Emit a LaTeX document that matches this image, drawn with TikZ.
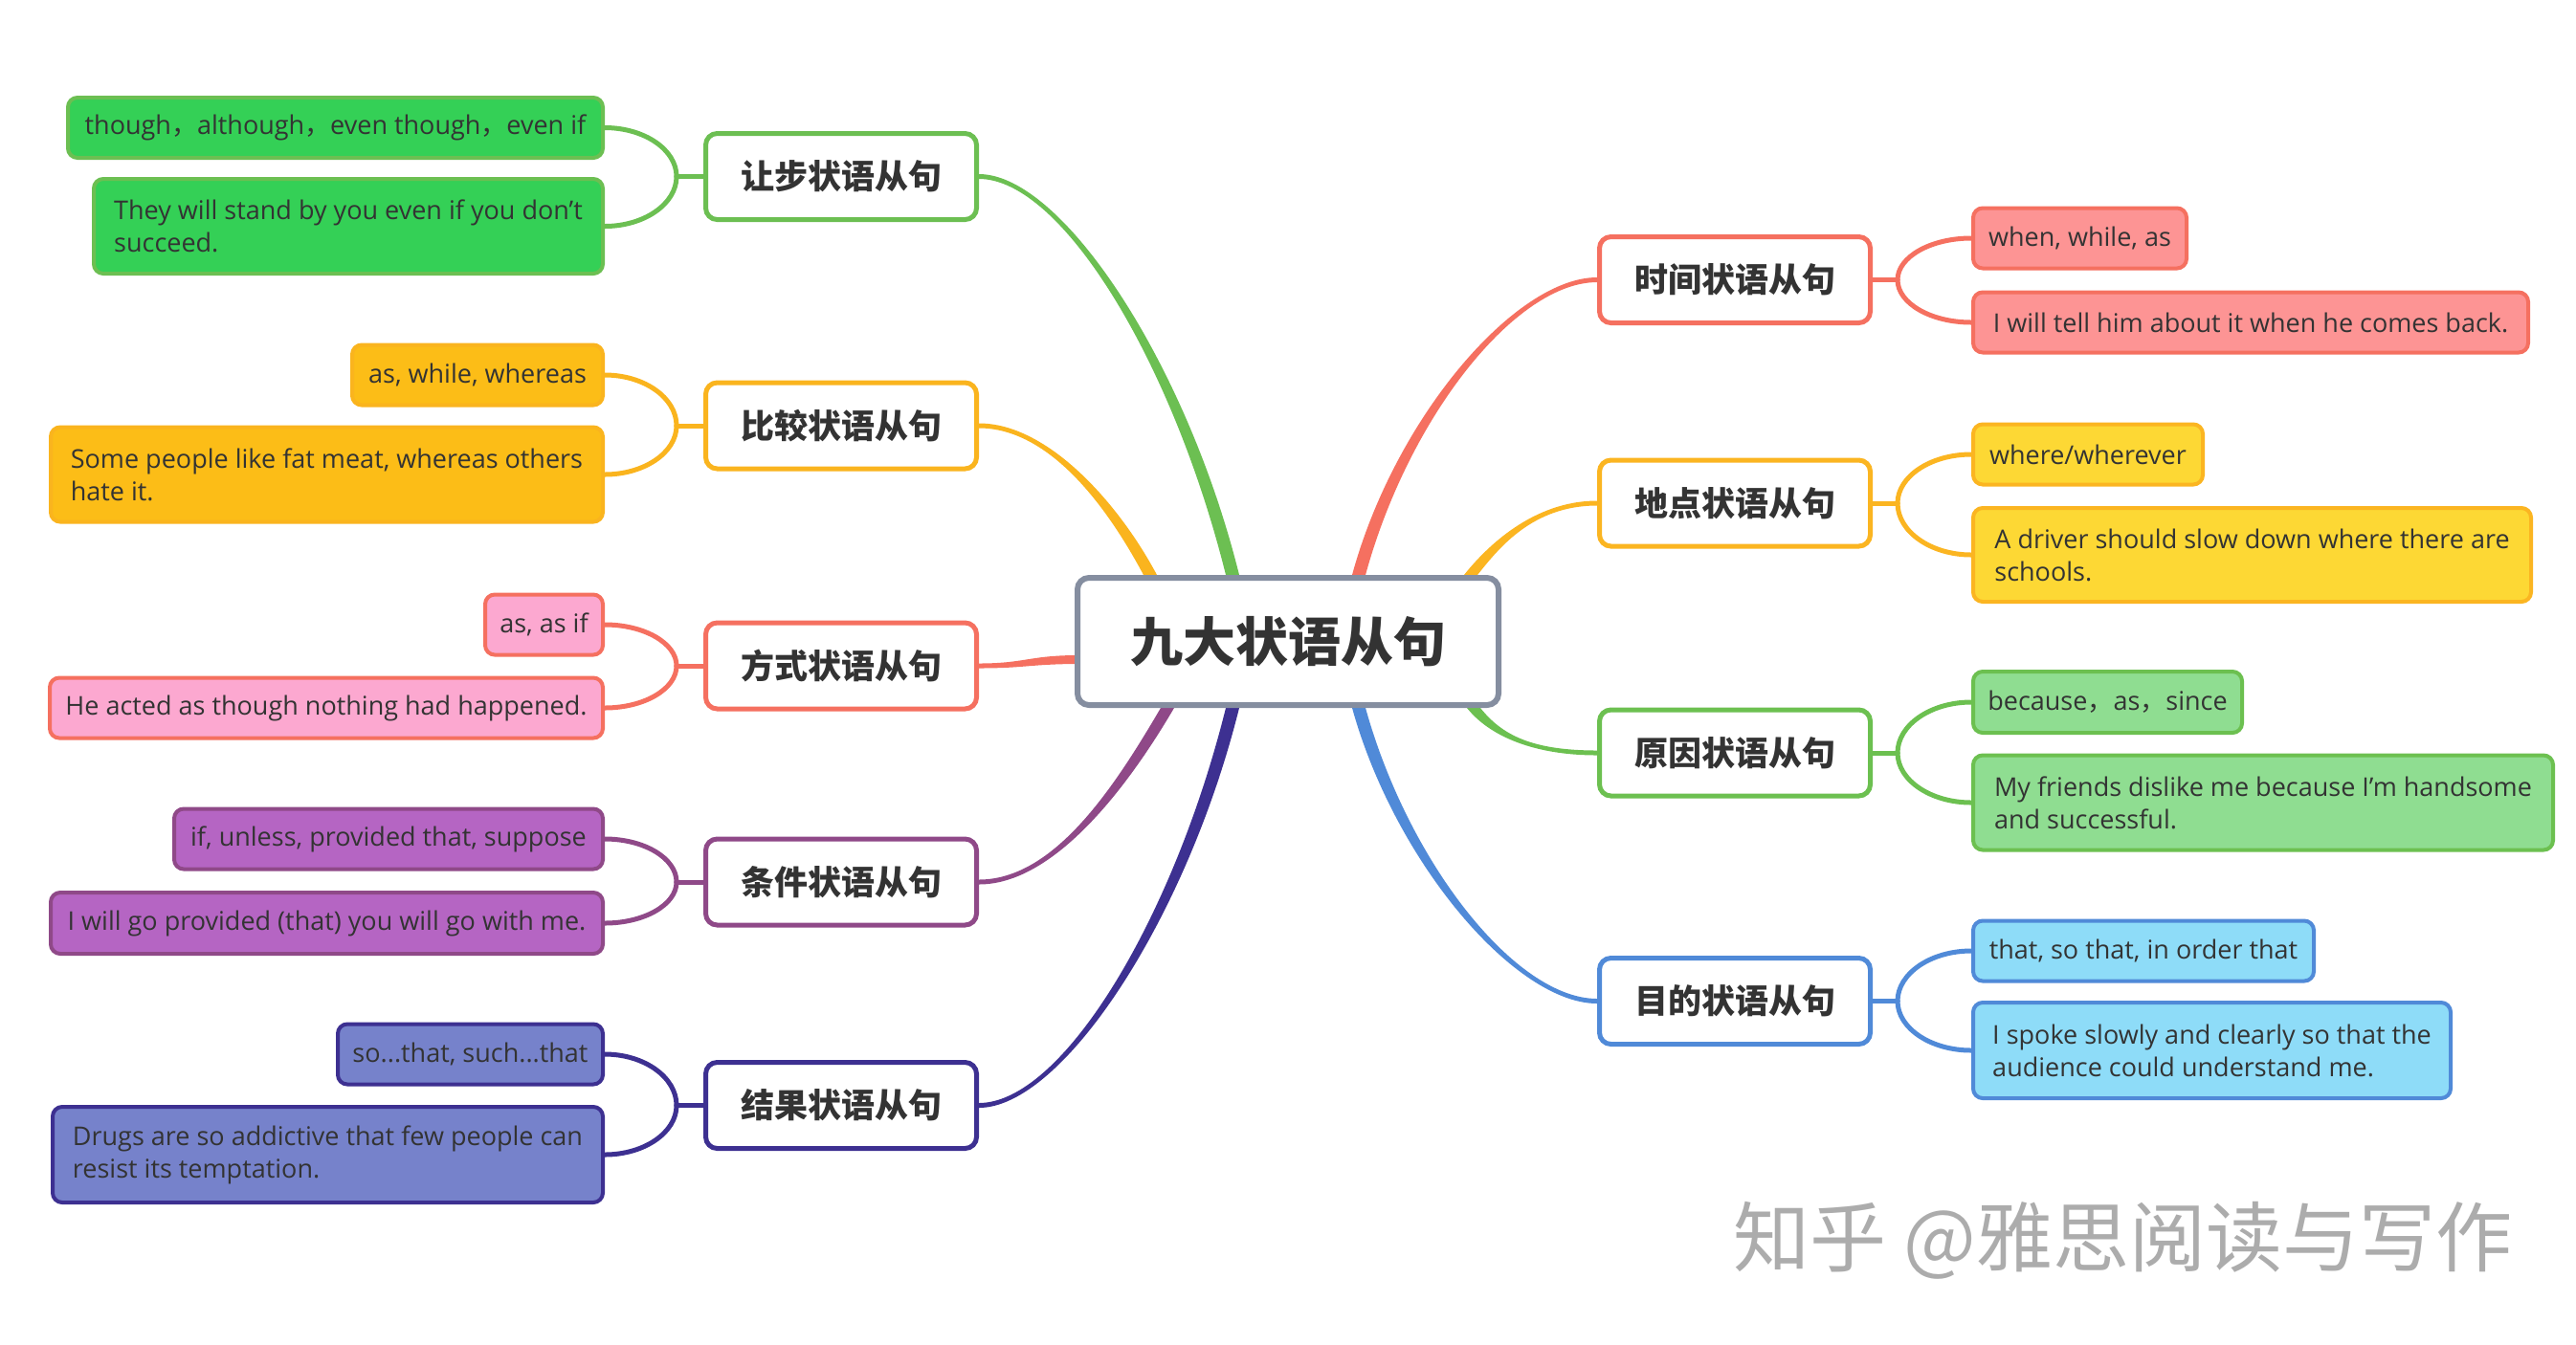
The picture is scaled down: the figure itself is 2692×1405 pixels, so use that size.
\documentclass[tikz,border=0pt]{standalone}
\usepackage{fontspec}
\setmainfont{Open Sans}
\newfontfamily\cjk{Noto Sans CJK SC}
\usetikzlibrary{calc,backgrounds}
\definecolor{gA}{RGB}{108,191,82}
\definecolor{gAf}{RGB}{52,208,86}
\definecolor{oB}{RGB}{250,180,30}
\definecolor{oBf}{RGB}{252,189,23}
\definecolor{rC}{RGB}{245,112,96}
\definecolor{pCf}{RGB}{252,168,208}
\definecolor{vD}{RGB}{143,73,136}
\definecolor{vDf}{RGB}{181,101,195}
\definecolor{iE}{RGB}{61,48,145}
\definecolor{iEf}{RGB}{118,130,203}
\definecolor{rFf}{RGB}{253,148,148}
\definecolor{yG}{RGB}{251,181,33}
\definecolor{yGf}{RGB}{253,216,52}
\definecolor{gH}{RGB}{108,192,80}
\definecolor{gHf}{RGB}{143,221,145}
\definecolor{bI}{RGB}{80,138,216}
\definecolor{bIf}{RGB}{142,220,248}
\definecolor{cenc}{RGB}{133,142,160}
\definecolor{txt}{RGB}{51,51,51}
\definecolor{wmc}{RGB}{172,172,172}
\newcommand\mmleaf{\fontsize{13.5}{17}\selectfont}
\newcommand\mmbranch{\cjk\bfseries\fontsize{17.5}{20}\selectfont}
\newcommand\mmcenter{\cjk\bfseries\fontsize{27.5}{30}\selectfont}
\newcommand\cc{{\cjk ，}}
% tapered main link: color, start, start offset, ctrl1, ctrl2, end, end offset
\newcommand\mmlink[7]{\fill[#1] ($(#2)+#3$) .. controls ($#4+#3$) and ($#5+#7$) .. ($(#6)+#7$) -- ($(#6)-#7$) .. controls ($#5-#7$) and ($#4-#3$) .. ($(#2)-#3$) -- cycle;}
% sub link: color, junction, leaf anchor
\newcommand\mmsub[3]{\draw[sublink=#1] (#2) .. controls ($(#2)!0.55!(#2|-#3)$) and ($(#3)!0.55!(#2|-#3)$) .. (#3);}
\tikzset{
  leaf/.style 2 args={draw=#1, fill=#2, rounded corners=5pt, line width=2pt, inner sep=0pt, align=left, font=\mmleaf, text=txt},
  branchbox/.style={draw=#1, fill=white, rounded corners=6pt, line width=2.5pt, minimum width=141.5pt, minimum height=45pt, inner sep=0pt, font=\mmbranch, text=txt},
  centerbox/.style={draw=cenc, fill=white, rounded corners=6pt, line width=3pt, minimum width=220pt, minimum height=66.5pt, inner sep=0pt, font=\mmcenter, text=txt},
  sublink/.style={draw=#1, line width=2.5pt, line cap=round},
}
\begin{document}
\begin{tikzpicture}[x=0.5pt, y=-0.5pt]
\useasboundingbox (0,0) rectangle (2692,1405);
% central
\node[centerbox] (c) at (1346,670.5) {九大状语从句};
% left branches
\node[branchbox=gA] (b1) at (879,184.5) {让步状语从句};
\node[branchbox=oB] (b2) at (879,445) {比较状语从句};
\node[branchbox=rC] (b3) at (879,696) {方式状语从句};
\node[branchbox=vD] (b4) at (879,922) {条件状语从句};
\node[branchbox=iE] (b5) at (879,1155.5) {结果状语从句};
% right branches
\node[branchbox=rC] (b6) at (1813,292.5) {时间状语从句};
\node[branchbox=yG] (b7) at (1813,526) {地点状语从句};
\node[branchbox=gH] (b8) at (1813,787) {原因状语从句};
\node[branchbox=bI] (b9) at (1813,1046.5) {目的状语从句};
% left leaves
\node[leaf={gA}{gAf}, minimum width=279.5pt, minimum height=31.5pt, anchor=east] (l1a) at (632,133.5) {though\cc although\cc even though\cc even if};
\node[leaf={gA}{gAf}, minimum width=266pt, minimum height=49.5pt, anchor=east] (l1b) at (632,236.5) {They will stand by you even if you don’t\\succeed.};
\node[leaf={oB}{oBf}, minimum width=131pt, minimum height=31.5pt, anchor=east] (l2a) at (632,392) {as, while, whereas};
\node[leaf={oB}{oBf}, minimum width=288.5pt, minimum height=49.5pt, anchor=east] (l2b) at (632,496) {Some people like fat meat, whereas others\\hate it.};
\node[leaf={rC}{pCf}, minimum width=61.5pt, minimum height=31.5pt, anchor=east] (l3a) at (632,653) {as, as if};
\node[leaf={rC}{pCf}, minimum width=289pt, minimum height=31.5pt, anchor=east] (l3b) at (632,740) {He acted as though nothing had happened.};
\node[leaf={vD}{vDf}, minimum width=224pt, minimum height=31.5pt, anchor=east] (l4a) at (632,877) {if, unless, provided that, suppose};
\node[leaf={vD}{vDf}, minimum width=288.5pt, minimum height=32pt, anchor=east] (l4b) at (632,965) {I will go provided (that) you will go with me.};
\node[leaf={iE}{iEf}, minimum width=138.5pt, minimum height=31.5pt, anchor=east] (l5a) at (632,1102) {so...that, such...that};
\node[leaf={iE}{iEf}, minimum width=287.5pt, minimum height=50pt, anchor=east] (l5b) at (632,1207) {Drugs are so addictive that few people can\\resist its temptation.};
% right leaves
\node[leaf={rC}{rFf}, minimum width=111.5pt, minimum height=31.5pt, anchor=west] (r1a) at (2060,249) {when, while, as};
\node[leaf={rC}{rFf}, minimum width=290pt, minimum height=31.5pt, anchor=west] (r1b) at (2060,337) {I will tell him about it when he comes back.};
\node[leaf={yG}{yGf}, minimum width=120pt, minimum height=31.5pt, anchor=west] (r2a) at (2060,475) {where/wherever};
\node[leaf={yG}{yGf}, minimum width=291.5pt, minimum height=49pt, anchor=west] (r2b) at (2060,580) {A driver should slow down where there are\\schools.};
\node[leaf={gH}{gHf}, minimum width=140.5pt, minimum height=32pt, anchor=west] (r3a) at (2060,734) {because\cc as\cc since};
\node[leaf={gH}{gHf}, minimum width=303pt, minimum height=49.5pt, anchor=west] (r3b) at (2060,839) {My friends dislike me because I{\char"27}m handsome\\and successful.};
\node[leaf={bI}{bIf}, minimum width=178pt, minimum height=31.5pt, anchor=west] (r4a) at (2060,994) {that, so that, in order that};
\node[leaf={bI}{bIf}, minimum width=249.5pt, minimum height=50pt, anchor=west] (r4b) at (2060,1098) {I spoke slowly and clearly so that the\\audience could understand me.};
% watermark
\node[anchor=west, inner sep=0pt, text=wmc, font=\cjk\fontsize{40}{40}\selectfont] (wm) at (1811,1297) {知乎 @雅思阅读与写作};
% attachment coordinates
\coordinate (cB) at ($(c.north)+(-144,0)$);
\coordinate (cA) at ($(c.north)+(-58,0)$);
\coordinate (cF) at ($(c.north)+(74,0)$);
\coordinate (cG) at ($(c.north)+(191,0)$);
\coordinate (cC) at ($(c.west)+(0,19)$);
\coordinate (cD) at ($(c.south)+(-126,0)$);
\coordinate (cE) at ($(c.south)+(-58,0)$);
\coordinate (cI) at ($(c.south)+(74,0)$);
\coordinate (cH) at ($(c.south)+(194,0)$);
\coordinate (j1) at ($(b1.west)+(-28,0)$);
\coordinate (j2) at ($(b2.west)+(-28,0)$);
\coordinate (j3) at ($(b3.west)+(-28,0)$);
\coordinate (j4) at ($(b4.west)+(-28,0)$);
\coordinate (j5) at ($(b5.west)+(-28,0)$);
\coordinate (j6) at ($(b6.east)+(26,0)$);
\coordinate (j7) at ($(b7.east)+(26,0)$);
\coordinate (j8) at ($(b8.east)+(26,0)$);
\coordinate (j9) at ($(b9.east)+(26,0)$);
\begin{scope}[on background layer]
\fill[white] (0,0) rectangle (2692,1405);
% main tapered links
\mmlink{gA}{cA}{(7,0)}{(1233,380)}{(1110,184.5)}{b1.east}{(0,-2.5)}
\mmlink{oB}{cB}{(7,0)}{(1162,526)}{(1095,445)}{b2.east}{(0,-2.5)}
\mmlink{rC}{cC}{(0,4.5)}{(1075,690)}{(1070,696)}{b3.east}{(0,2.5)}
\mmlink{vD}{cD}{(7,0)}{(1172,822)}{(1102,922)}{b4.east}{(0,2.5)}
\mmlink{iE}{cE}{(7,0)}{(1233,961)}{(1110,1155.5)}{b5.east}{(0,2.5)}
\mmlink{rC}{cF}{(7,0)}{(1465,436)}{(1584,292.5)}{b6.west}{(0,2.5)}
\mmlink{yG}{cG}{(7,0)}{(1560,572)}{(1602,526)}{b7.west}{(0,2.5)}
\mmlink{gH}{cH}{(7,0)}{(1563,769)}{(1602,787)}{b8.west}{(0,-2.5)}
\mmlink{bI}{cI}{(7,0)}{(1465,902)}{(1584,1046.5)}{b9.west}{(0,-2.5)}
% stubs
\draw[sublink=gA] (b1.west) -- (j1);
\draw[sublink=oB] (b2.west) -- (j2);
\draw[sublink=rC] (b3.west) -- (j3);
\draw[sublink=vD] (b4.west) -- (j4);
\draw[sublink=iE] (b5.west) -- (j5);
\draw[sublink=rC] (b6.east) -- (j6);
\draw[sublink=yG] (b7.east) -- (j7);
\draw[sublink=gH] (b8.east) -- (j8);
\draw[sublink=bI] (b9.east) -- (j9);
% leaf links
\mmsub{gA}{j1}{l1a.east}
\mmsub{gA}{j1}{l1b.east}
\mmsub{oB}{j2}{l2a.east}
\mmsub{oB}{j2}{l2b.east}
\mmsub{rC}{j3}{l3a.east}
\mmsub{rC}{j3}{l3b.east}
\mmsub{vD}{j4}{l4a.east}
\mmsub{vD}{j4}{l4b.east}
\mmsub{iE}{j5}{l5a.east}
\mmsub{iE}{j5}{l5b.east}
\mmsub{rC}{j6}{r1a.west}
\mmsub{rC}{j6}{r1b.west}
\mmsub{yG}{j7}{r2a.west}
\mmsub{yG}{j7}{r2b.west}
\mmsub{gH}{j8}{r3a.west}
\mmsub{gH}{j8}{r3b.west}
\mmsub{bI}{j9}{r4a.west}
\mmsub{bI}{j9}{r4b.west}
\end{scope}
\end{tikzpicture}
\end{document}
